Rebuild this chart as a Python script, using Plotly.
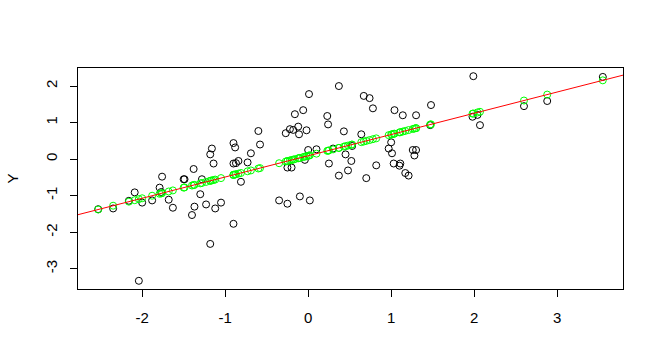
import numpy as np
import plotly.graph_objects as go

X = [-2.53, -2.35, -2.16, -2.09, -2.04, -2.00, -1.88, -1.79, -1.77, -1.76,
     -1.68, -1.63, -1.50, -1.49, -1.40, -1.38, -1.37, -1.30, -1.28, -1.23,
     -1.18, -1.18, -1.16, -1.14, -1.12, -1.05, -0.90, -0.88, -0.90, -0.87,
     -0.84, -0.90, -0.81, -0.73, -0.69, -0.60, -0.58, -0.35, -0.27, -0.25,
     -0.25, -0.22, -0.20, -0.18, -0.16, -0.12, -0.11, -0.10, -0.06, -0.04,
     -0.02, 0.00, 0.01, 0.02, 0.10, 0.23, 0.24, 0.25, 0.30, 0.37,
     0.37, 0.43, 0.45, 0.48, 0.52, 0.53, 0.64, 0.67, 0.70, 0.74,
     0.78, 0.82, 0.97, 1.00, 1.01, 1.03, 1.04, 1.10, 1.11, 1.14,
     1.17, 1.21, 1.26, 1.28, 1.30, 1.30, 1.47, 1.48, 1.99, 1.98,
     2.04, 2.07, 2.60, 2.88, 3.55]
Y = [-1.37, -1.35, -1.14, -0.91, -3.33, -1.19, -1.13, -0.78, -0.90, -0.48,
     -1.11, -1.33, -0.55, -0.55, -1.53, -0.27, -1.30, -0.96, -0.55, -1.24,
     -2.32, 0.13, 0.29, -0.12, -1.35, -1.19, 0.44, 0.32, -0.12, -0.11,
     -0.05, -1.77, -0.62, -0.09, 0.16, 0.77, 0.40, -1.13, 0.71, -0.23,
     -1.22, 0.82, -0.23, 0.80, 1.23, 0.89, 0.68, -1.02, 1.34, -0.02,
     0.79, 0.25, 1.78, -1.13, 0.27, 1.18, 0.95, -0.12, 0.29, 2.00,
     -0.45, 0.76, 0.13, -0.31, -0.05, 0.36, 0.68, 1.73, -0.52, 1.67,
     1.39, -0.17, 0.29, 0.46, 0.16, -0.12, 1.34, -0.18, -0.12, 1.20,
     -0.38, -0.45, 0.25, 0.10, 0.25, 1.20, 0.93, 1.48, 2.27, 1.16,
     1.21, 0.93, 1.45, 1.59, 2.25]

x = np.array(X)
y = np.array(Y)
slope, intercept = np.polyfit(x, y, 1)
fitted = intercept + slope * x

def rng(v):
    d = v.max() - v.min()
    return [v.min() - 0.04 * d, v.max() + 0.04 * d]

xr = rng(x)
yr = rng(y)

fig = go.Figure()
fig.add_trace(go.Scatter(x=X, y=Y, mode="markers",
                         marker=dict(symbol="circle-open", size=7, color="black",
                                     line=dict(width=1, color="black")),
                         hoverinfo="skip"))
fig.add_trace(go.Scatter(x=X, y=fitted, mode="markers",
                         marker=dict(symbol="circle-open", size=7, color="#00FF00",
                                     line=dict(width=1, color="#00FF00")),
                         hoverinfo="skip"))
fig.add_trace(go.Scatter(x=xr, y=[intercept + slope * xr[0], intercept + slope * xr[1]],
                         mode="lines", line=dict(color="red", width=1),
                         hoverinfo="skip"))

font = dict(family="Liberation Sans, Arial", size=15, color="black")
fig.update_layout(
    width=664, height=349,
    margin=dict(l=78, r=41, t=68, b=60),
    paper_bgcolor="white", plot_bgcolor="white",
    showlegend=False,
    font=font,
    xaxis=dict(range=xr, showgrid=False, zeroline=False, showline=True, mirror=True,
               linecolor="black", linewidth=1, ticks="outside", ticklen=7,
               tickcolor="black", tickvals=[-2, -1, 0, 1, 2, 3],
               ticktext=["-2", "-1", "0", "1", "2", "3"],
               ticklabelstandoff=8, tickfont=font),
    yaxis=dict(range=yr, showgrid=False, zeroline=False, showline=True, mirror=True,
               linecolor="black", linewidth=1, ticks="outside", ticklen=7,
               tickcolor="black", tickvals=[-3, -2, -1, 0, 1, 2],
               ticktext=["-3", "-2", "-1", "0", "1", "2"], tickangle=-90,
               ticklabelstandoff=7, tickfont=font),
    annotations=[dict(text="Y", x=-(78 - 12) / 545, y=0.5, xref="paper", yref="paper",
                      xanchor="center", yanchor="middle",
                      showarrow=False, textangle=-90, font=font)],
)

fig.write_html("out.html")
